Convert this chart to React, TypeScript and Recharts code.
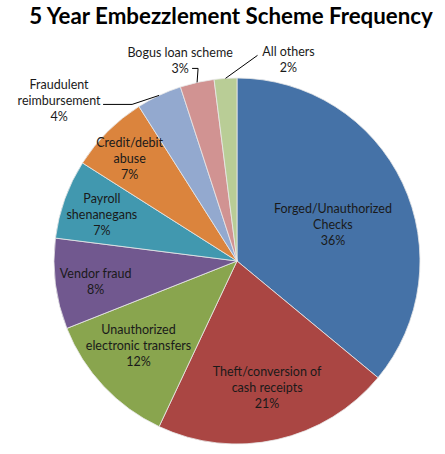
import { PieChart, Pie, Cell } from 'recharts'

const categories = [
  'Forged/Unauthorized\nChecks',
  'Theft/conversion of\ncash receipts',
  'Unauthorized\nelectronic transfers',
  'Vendor fraud',
  'Payroll\nshenanegans',
  'Credit/debit\nabuse',
  'Fraudulent\nreimbursement',
  'Bogus loan scheme',
  'All others',
]

const shares = [36, 21, 12, 8, 7, 7, 4, 3, 2]

const COLORS = [
  '#4572A7',
  '#AA4643',
  '#89A54E',
  '#71588F',
  '#4198AF',
  '#DB843D',
  '#93A9CF',
  '#D19392',
  '#B9CD96',
]

const data = categories.map((name, i) => ({ name, value: shares[i] }))

// label placement: inside labels sit on a radius fraction, outside ones get a leader
type Placement =
  | { kind: 'inside'; r: number; da: number }
  | { kind: 'outside'; dx: number; dy: number; leader: [number, number][] }

const PLACEMENT: Placement[] = [
  { kind: 'inside', r: 0.56, da: -4.6 },
  { kind: 'inside', r: 0.71, da: 0.8 },
  { kind: 'inside', r: 0.71, da: -2.5 },
  { kind: 'inside', r: 0.78, da: 0.9 },
  { kind: 'inside', r: 0.78, da: 1 },
  { kind: 'inside', r: 0.81, da: 1.4 },
  { kind: 'outside', dx: -100, dy: 5, leader: [[-27, 9], [-56, 9]] },
  { kind: 'outside', dx: -17, dy: -21.5, leader: [[1, -14], [-5, -14]] },
  { kind: 'outside', dx: 63, dy: -19, leader: [[32, -23]] },
]

const RAD = Math.PI / 180
const FONT = 'Lato, "Liberation Sans", sans-serif'
const LINE_H = 16

const renderLabel = (props: any) => {
  const { cx, cy, midAngle, outerRadius, index, value } = props
  const p = PLACEMENT[index]
  const lines = [...categories[index].split('\n'), `${value}%`]
  let x: number
  let y: number
  let leader: JSX.Element | null = null
  if (p.kind === 'inside') {
    const a = (midAngle + p.da) * RAD
    x = cx + outerRadius * p.r * Math.cos(a)
    y = cy - outerRadius * p.r * Math.sin(a)
  } else {
    const a = midAngle * RAD
    const ex = cx + outerRadius * Math.cos(a)
    const ey = cy - outerRadius * Math.sin(a)
    x = ex + p.dx
    y = ey + p.dy
    const pts = [[ex, ey], ...p.leader.map(([lx, ly]) => [ex + lx, ey + ly])]
    leader = (
      <polyline
        points={pts.map((q) => q.join(',')).join(' ')}
        fill="none"
        stroke="#000"
        strokeWidth={1}
      />
    )
  }
  const top = y - ((lines.length - 1) * LINE_H) / 2
  return (
    <g key={`lbl-${index}`}>
      {leader}
      <text
        x={x}
        y={top}
        textAnchor="middle"
        fontFamily={FONT}
        fontSize={12.5}
        fill="#1a1a1a"
      >
        {lines.map((l, i) => (
          <tspan key={i} x={x} y={top + i * LINE_H} dominantBaseline="central">
            {l}
          </tspan>
        ))}
      </text>
    </g>
  )
}

export default function App() {
  return (
    <div style={{ position: 'absolute', left: 0, top: 0, width: 445, height: 454, background: '#fff' }}>
      <div
        style={{
          position: 'absolute',
          left: 0,
          top: 2,
          width: 462,
          textAlign: 'center',
          fontFamily: FONT,
          fontWeight: 700,
          fontSize: 22.3,
          color: '#000',
          whiteSpace: 'nowrap',
        }}
      >
        5 Year Embezzlement Scheme Frequency
      </div>
      <PieChart width={445} height={454}>
        <Pie
          data={data}
          dataKey="value"
          nameKey="name"
          cx={232}
          cy={256}
          outerRadius={183}
          startAngle={90}
          endAngle={-270}
          stroke="#e8e8e8"
          strokeWidth={0.8}
          label={renderLabel}
          labelLine={false}
          isAnimationActive={false}
        >
          {data.map((d, i) => (
            <Cell key={d.name} fill={COLORS[i]} />
          ))}
        </Pie>
      </PieChart>
    </div>
  )
}
